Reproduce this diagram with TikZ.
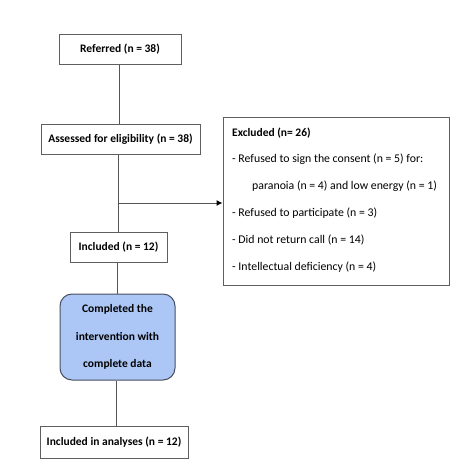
\documentclass[tikz,border=0pt]{standalone}
\usepackage{fontspec}
\setmainfont{Carlito}
\usetikzlibrary{arrows.meta}
\definecolor{boxline}{RGB}{95,95,95}
\definecolor{connline}{RGB}{85,85,85}
\definecolor{bluefill}{RGB}{172,199,245}
\definecolor{blueline}{RGB}{70,78,95}
\tikzset{
  stepbox/.style={draw=boxline, line width=1pt, fill=white, inner sep=0pt, font=\fontsize{11.5}{13}\selectfont\bfseries},
  conn/.style={draw=connline, line width=1pt},
  exctext/.style={anchor=west, inner sep=0pt, font=\fontsize{11.8}{13}\selectfont},
}
\begin{document}
\begin{tikzpicture}[x=1pt,y=-1pt]
\useasboundingbox (0,0) rectangle (474,472);
\node[stepbox, minimum width=122pt, minimum height=30pt] (ref) at (120,49) {Referred (n = 38)};
\node[stepbox, minimum width=159pt, minimum height=30pt] (ass) at (120.5,139) {Assessed for eligibility (n = 38)};
\node[stepbox, minimum width=97pt, minimum height=30pt] (inc) at (118.5,247) {Included (n = 12)};
\node[draw=blueline, line width=1pt, fill=bluefill, rounded corners=12pt, minimum width=115pt, minimum height=86pt, inner sep=0pt, align=center, font=\fontsize{11.5}{27.5}\selectfont\bfseries] (comp) at (117.5,337) {Completed the\\intervention with\\complete data};
\node[stepbox, minimum width=148pt, minimum height=32pt] (ana) at (114,442) {Included in analyses (n = 12)};
\node[draw=boxline, line width=1pt, minimum width=226pt, minimum height=168pt, inner sep=0pt] (exc) at (336,201) {};
\node[exctext, font=\fontsize{11.5}{13}\selectfont\bfseries] (e0) at (232,133) {Excluded (n= 26)};
\node[exctext] (e1) at (232,159) {- Refused to sign the consent (n = 5) for:};
\node[exctext] (e2) at (252,186) {paranoia (n = 4) and low energy (n = 1)};
\node[exctext] (e3) at (232,213) {- Refused to participate (n = 3)};
\node[exctext] (e4) at (232,240) {- Did not return call (n = 14)};
\node[exctext] (e5) at (232,267) {- Intellectual deficiency (n = 4)};
\coordinate (br) at (118,203);
\draw[conn] (ref.south -| 119,0) -- (ass.north -| 119,0);
\draw[conn] (ass.south -| 118,0) -- (inc.north -| 118,0);
\draw[conn, -{Latex[length=6pt,width=6pt,color=black]}] (br) -- (br -| exc.west);
\draw[conn] (inc.south -| 117,0) -- (comp.north -| 117,0);
\draw[conn] (comp.south -| 116,0) -- (ana.north -| 116,0);
\end{tikzpicture}
\end{document}
